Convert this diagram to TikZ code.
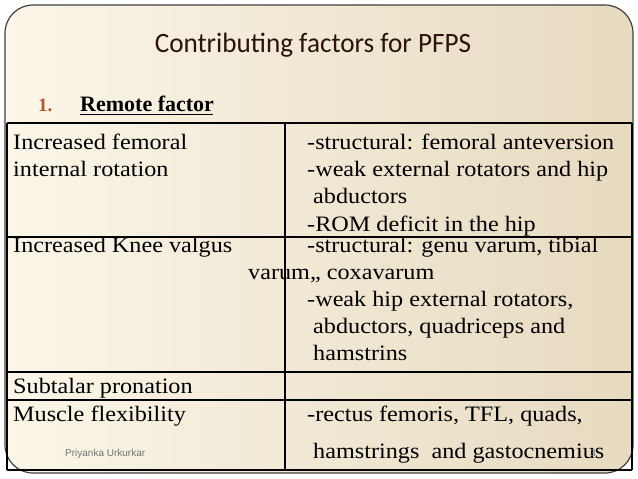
\documentclass[tikz,border=0pt]{standalone}
\usepackage{fontspec}
\setmainfont{Liberation Serif}
\newfontfamily\titlefont{Carlito}
\newfontfamily\footfont{Liberation Sans}
\definecolor{bgl}{HTML}{FBF6E8}
\definecolor{bgr}{HTML}{E6DAC0}
\definecolor{titlec}{HTML}{2A140C}
\definecolor{numc}{HTML}{B5562A}
\tikzset{
  cell/.style={anchor=base west,inner sep=0pt,font=\fontsize{22}{22}\selectfont,xscale=1.1},
  rule/.style={line width=1.3pt,black}
}
\begin{document}
\begin{tikzpicture}[x=1pt,y=-1pt]
\useasboundingbox (0,0) rectangle (638,479);
\fill[white] (0,0) rectangle (638,479);
\shade[left color=bgl,right color=bgr,rounded corners=28pt,draw=black!75,line width=1.2pt] (5,5) rectangle (633,473);
\node[font=\titlefont\fontsize{28}{28}\selectfont,text=titlec,xscale=0.97] (title) at (313,45) {Contributing factors for PFPS};
\node[anchor=base west,inner sep=0pt,font=\bfseries\fontsize{19}{19}\selectfont,text=numc] (num) at (38,111) {1.};
\node[anchor=base west,inner sep=0pt,font=\bfseries\fontsize{22}{22}\selectfont] (rf) at (80,111) {Remote factor};
\draw[line width=1pt] (rf.base west)++(0,3) -- ++(133,0);
% table lines
\draw[rule] (7,123) -- (632,123);
\draw[rule] (7,237) -- (632,237);
\draw[rule] (7,372) -- (632,372);
\draw[rule] (7,400) -- (632,400);
\draw[rule] (7,123) -- (7,470);
\draw[rule] (632,123) -- (632,470);
\draw[rule] (285,123) -- (285,470);
\draw[rule] (7,470) -- (632,470);
% left column
\node[cell] (a1) at (13,149) {Increased femoral};
\node[cell] (a2) at (13,176) {internal rotation};
\node[cell] (b1) at (13,252) {Increased Knee valgus};
\node[cell] (c1) at (13,393) {Subtalar pronation};
\node[cell] (d1) at (13,421) {Muscle flexibility};
% right column
\node[cell] (r1) at (307,149) {-structural: femoral anteversion};
\node[cell] (r2) at (307,176) {-weak external rotators and hip};
\node[cell] (r3) at (313,203) {abductors};
\node[cell] (r4) at (307,231) {-ROM deficit in the hip};
\node[cell] (s1) at (307,252) {-structural: genu varum, tibial};
\node[cell] (s2) at (248,279) {varum,, coxavarum};
\node[cell] (s3) at (307,306) {-weak hip external rotators,};
\node[cell] (s4) at (313,333) {abductors, quadriceps and};
\node[cell] (s5) at (313,360) {hamstrins};
\node[cell] (t1) at (307,421) {-rectus femoris, TFL, quads,};
\node[cell] (t2) at (313,458) {hamstrings\ \ and gastocnemius};
\node[anchor=base west,inner sep=0pt,font=\footfont\fontsize{10}{10}\selectfont,text=black!55] (foot) at (65,456) {Priyanka Urkurkar};
\node[anchor=base west,inner sep=0pt,font=\footfont\fontsize{10}{10}\selectfont,text=black!55] (pg) at (590,456) {3};
\end{tikzpicture}
\end{document}
